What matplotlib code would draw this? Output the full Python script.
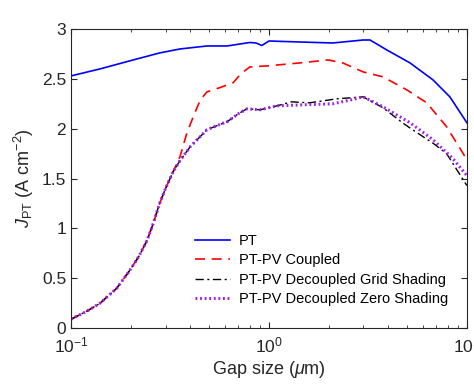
import numpy as np
import matplotlib.pyplot as plt

plt.rcParams['font.family'] = ['Liberation Sans', 'DejaVu Sans']
plt.rcParams['mathtext.fontset'] = 'custom'
plt.rcParams['mathtext.rm'] = 'Liberation Sans'
plt.rcParams['mathtext.it'] = 'Liberation Sans:italic'

# PT only
x_pt = [0.1, 0.14, 0.206, 0.28, 0.355, 0.486, 0.614, 0.80, 0.86, 0.92, 1.0,
        1.43, 2.1, 2.99, 3.24, 3.94, 5.16, 6.74, 8.2, 10.0]
j_pt = [2.53, 2.60, 2.69, 2.76, 2.80, 2.83, 2.83, 2.865, 2.86, 2.835, 2.88,
        2.87, 2.86, 2.89, 2.89, 2.79, 2.66, 2.49, 2.32, 2.06]

# shared rising part (low gap)
x_low = [0.1, 0.12, 0.14, 0.17, 0.198, 0.22, 0.242, 0.26, 0.28, 0.30, 0.328]
j_low = [0.09, 0.17, 0.25, 0.40, 0.58, 0.72, 0.88, 1.05, 1.25, 1.40, 1.57]

# PT-PV coupled
x_cp = [0.355, 0.385, 0.42, 0.45, 0.486, 0.56, 0.658, 0.72, 0.80, 0.977,
        1.43, 1.99, 2.36, 2.99, 3.77, 4.97, 6.27, 7.9, 10.0]
j_cp = [1.72, 1.96, 2.15, 2.29, 2.37, 2.41, 2.46, 2.55, 2.62, 2.63,
        2.66, 2.69, 2.66, 2.57, 2.52, 2.39, 2.26, 2.02, 1.69]

# PT-PV decoupled, zero shading
x_zs = [0.355, 0.40, 0.486, 0.56, 0.614, 0.70, 0.774, 0.90, 1.1, 1.5,
        2.1, 2.6, 2.99, 3.77, 5.16, 6.74, 8.5, 10.0]
j_zs = [1.68, 1.82, 1.99, 2.04, 2.07, 2.15, 2.20, 2.19, 2.23, 2.24,
        2.25, 2.29, 2.32, 2.22, 2.06, 1.89, 1.70, 1.53]

# PT-PV decoupled, grid shading
x_gs = [0.355, 0.40, 0.486, 0.56, 0.614, 0.70, 0.774, 0.90, 1.1, 1.3,
        1.6, 2.2, 2.99, 3.77, 4.8, 5.6, 6.8, 7.9, 10.0]
j_gs = [1.68, 1.82, 1.99, 2.04, 2.07, 2.15, 2.20, 2.19, 2.23, 2.27,
        2.26, 2.30, 2.32, 2.21, 2.05, 1.96, 1.85, 1.75, 1.43]

fig = plt.figure(figsize=(4.74, 3.87), dpi=100)
ax = fig.add_axes([0.150, 0.152, 0.835, 0.773])

ax.plot(x_pt, j_pt, color='#0000ff', lw=1.2, label='PT')
ax.plot(x_low + x_cp, j_low + j_cp, color='#ff0000', lw=1.2,
        ls=(0, (6, 4)), label='PT-PV Coupled')
ax.plot(x_low + x_gs, j_low + j_gs, color='black', lw=1.0,
        ls=(0, (6, 2.5, 1.5, 2.5)), label='PT-PV Decoupled Grid Shading')
ax.plot(x_low + x_zs, j_low + j_zs, color='#a020f0', lw=2.2,
        ls=(0, (0.6, 0.9)), label='PT-PV Decoupled Zero Shading')

ax.set_xscale('log')
ax.set_xlim(0.1, 10)
ax.set_ylim(0, 3)
ax.set_yticks([0, 0.5, 1, 1.5, 2, 2.5, 3])
ax.set_yticklabels(['0', '0.5', '1', '1.5', '2', '2.5', '3'])
ax.tick_params(which='both', direction='in', top=True, right=True,
               labelsize=12.5, colors='#262626')
ax.tick_params(which='major', length=4)
ax.tick_params(which='minor', length=2)
ax.tick_params(axis='x', pad=5)
for s in ax.spines.values():
    s.set_color('#262626')
    s.set_linewidth(0.8)

ax.set_xlabel('Gap size ($\\mu$m)', fontsize=13, color='#262626', labelpad=3)
ax.set_ylabel('$J_{\\mathrm{PT}}$ (A cm$^{-2}$)', fontsize=13, color='#262626')

ax.legend(loc='upper left', bbox_to_anchor=(0.28, 0.36), frameon=False,
          fontsize=10.5, handlelength=2.4, handletextpad=0.6,
          labelspacing=0.38)

fig.savefig('out.png', dpi=100)
